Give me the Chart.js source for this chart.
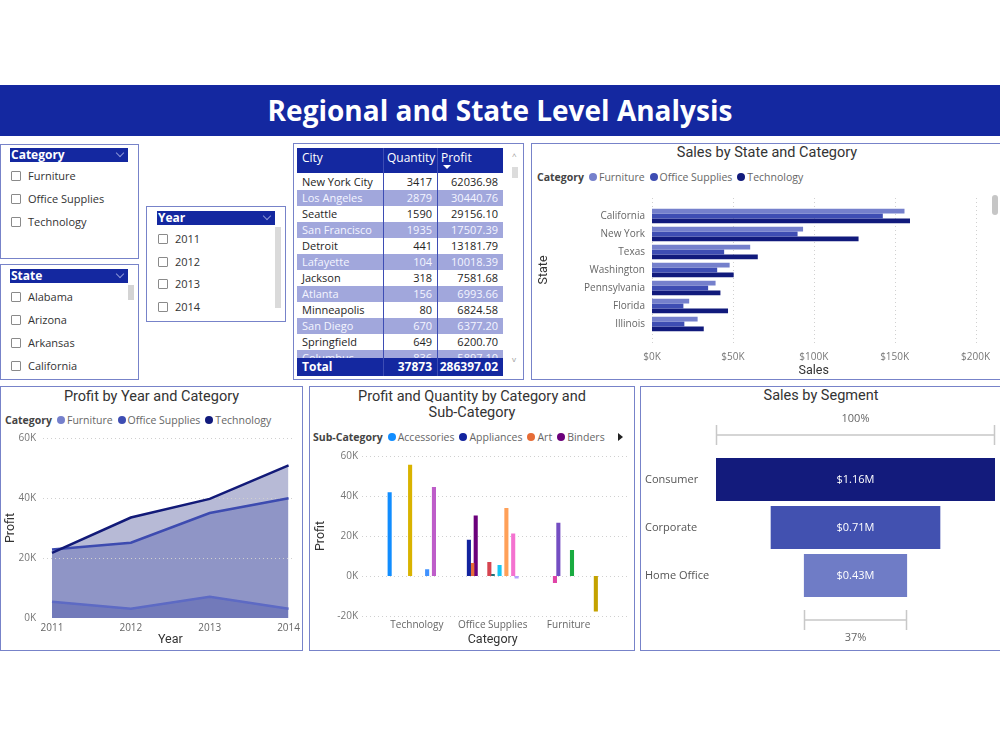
<!DOCTYPE html>
<html>
<head>
<meta charset="utf-8">
<title>Regional and State Level Analysis</title>
<script src="https://cdn.jsdelivr.net/npm/chart.js"></script>
<style>
  body { margin: 0; background: #fff; }
  #dash { position: relative; width: 1000px; height: 750px; overflow: hidden; font-family: 'Open Sans', sans-serif; color: #333; }
  .abs { position: absolute; }
  .banner { left: 0; top: 85px; width: 1000px; height: 51px; background: #1428a0; color: #fff; font: bold 28px 'Open Sans', sans-serif; text-align: center; line-height: 51px; }
  .panel { position: absolute; border: 1px solid #7783c9; box-sizing: border-box; }
  .vtitle { position: absolute; font-family: Roboto, sans-serif; font-size: 14.5px; color: #333; text-align: center; line-height: 16px; }
  .legend { position: absolute; display: flex; align-items: center; font-size: 10.5px; color: #666; white-space: nowrap; line-height: 12px; }
  .legend b { color: #444; margin-right: 5px; }
  .legend .item { display: flex; align-items: center; margin-right: 5px; }
  .legend .dot { width: 8px; height: 8px; border-radius: 50%; margin-right: 2px; }
  .slhead { position: absolute; background: #1428a0; color: #fff; font-weight: bold; font-size: 12px; line-height: 14px; height: 14px; padding-left: 1px; box-sizing: border-box; }
  .chev { position: absolute; right: 5px; top: 2px; width: 5px; height: 5px; border-right: 1px solid #8a94d6; border-bottom: 1px solid #8a94d6; transform: rotate(45deg); }
  .slitem { position: absolute; font-size: 11px; color: #333; line-height: 14px; white-space: nowrap; }
  .box { position: absolute; width: 10px; height: 10px; border: 1px solid #8a8a8a; box-sizing: border-box; border-radius: 1px; }
  .sbar { position: absolute; background: #d4d4d4; }
  .cell { position: absolute; font-size: 11px; line-height: 16px; white-space: nowrap; }
</style>
</head>
<body>
<div id="dash">
  <div class="abs banner">Regional and State Level Analysis</div>

  <!-- slicers -->
  <div class="panel" style="left:0;top:144px;width:139px;height:115px"></div>
  <div class="panel" style="left:0;top:264px;width:139px;height:116px"></div>
  <div class="panel" style="left:146px;top:206px;width:140px;height:116px"></div>

  <!-- table -->
  <div class="panel" style="left:293px;top:143px;width:231px;height:237px"></div>

  <!-- sales by state -->
  <div class="panel" style="left:531px;top:143px;width:475px;height:237px"></div>
  <div class="vtitle" style="left:531px;top:145px;width:472px">Sales by State and Category</div>
  <div class="legend" id="legState" style="left:537px;top:171px"></div>
  <div class="sbar" style="left:992px;top:195px;width:6px;height:20px;border-radius:3px;background:#c6c6c6"></div>
  <canvas class="abs" id="stateChart" width="460" height="190" style="left:532px;top:188px"></canvas>

  <!-- profit by year -->
  <div class="panel" style="left:0;top:386px;width:303px;height:265px"></div>
  <div class="vtitle" style="left:0;top:389px;width:303px">Profit by Year and Category</div>
  <div class="legend" id="legYear" style="left:5px;top:414px"></div>
  <canvas class="abs" id="yearChart" width="300" height="220" style="left:2px;top:428px"></canvas>

  <!-- profit and quantity by sub-category -->
  <div class="panel" style="left:309px;top:386px;width:326px;height:265px"></div>
  <div class="vtitle" style="left:309px;top:389px;width:326px">Profit and Quantity by Category and<br>Sub-Category</div>
  <div class="legend" id="legSub" style="left:313px;top:431px"></div>
  <div class="abs" style="left:618px;top:433px;width:0;height:0;border-top:4px solid transparent;border-bottom:4px solid transparent;border-left:5px solid #222"></div>
  <canvas class="abs" id="subChart" width="321" height="203" style="left:311px;top:445px"></canvas>

  <!-- sales by segment -->
  <div class="panel" style="left:640px;top:386px;width:366px;height:265px"></div>
  <div class="vtitle" style="left:640px;top:388px;width:362px">Sales by Segment</div>
  <canvas class="abs" id="segChart" width="356" height="248" style="left:642px;top:400px"></canvas>
</div>

<script>
// ---- Données ----
const categories = ['Furniture', 'Office Supplies', 'Technology'];
const categoryColors = ['#7580cc', '#3e4db3', '#111a7c'];

const states = ['California', 'New York', 'Texas', 'Washington', 'Pennsylvania', 'Florida', 'Illinois'];
const stateFurniture = [156100, 93400, 60700, 48000, 39300, 23000, 28200];
const stateOffice = [142700, 90000, 44600, 40300, 34700, 19400, 20000];
const stateTech = [159500, 127700, 65400, 50500, 42300, 47000, 32000];

const years = ['2011', '2012', '2013', '2014'];
const profitFurniture = [5400, 3100, 7100, 3100];
const profitOffice = [22800, 25100, 35000, 39900];
const profitTech = [21700, 33500, 39700, 50900];

const mainCategories = ['Technology', 'Office Supplies', 'Furniture'];
const subCategories = ['Accessories', 'Appliances', 'Art', 'Binders', 'Bookcases', 'Chairs', 'Copiers', 'Envelopes', 'Fasteners',
  'Furnishings', 'Labels', 'Machines', 'Paper', 'Phones', 'Storage', 'Supplies', 'Tables'];
const subParent = ['Technology', 'Office Supplies', 'Office Supplies', 'Office Supplies', 'Furniture', 'Furniture', 'Technology',
  'Office Supplies', 'Office Supplies', 'Furniture', 'Office Supplies', 'Technology', 'Office Supplies', 'Technology',
  'Office Supplies', 'Office Supplies', 'Furniture'];
const subProfit = [41937, 18138, 6528, 30222, -3473, 26590, 55618, 6964, 950, 13059, 5546, 3385, 34054, 44516, 21279, -1189, -17725];
const subColors = ['#118dff', '#12239e', '#e66c37', '#6b007b', '#e044a7', '#744ec2', '#d9b300', '#d64550', '#197278',
  '#1aab40', '#15c6f4', '#4092ff', '#ffa058', '#be5dc9', '#f472d0', '#b5a1ff', '#c4a200'];

const segments = ['Consumer', 'Corporate', 'Home Office'];
const segmentSales = [1161401, 706146, 429653];
const segmentColors = ['#131b7c', '#4251b0', '#6f7cc6'];

const slicerCategories = ['Furniture', 'Office Supplies', 'Technology'];
const slicerStates = ['Alabama', 'Arizona', 'Arkansas', 'California'];
const slicerYears = ['2011', '2012', '2013', '2014'];

const tableCities = ['New York City', 'Los Angeles', 'Seattle', 'San Francisco', 'Detroit', 'Lafayette', 'Jackson', 'Atlanta',
  'Minneapolis', 'San Diego', 'Springfield', 'Columbus'];
const tableQuantity = [3417, 2879, 1590, 1935, 441, 104, 318, 156, 80, 670, 649, 836];
const tableProfit = [62036.98, 30440.76, 29156.10, 17507.39, 13181.79, 10018.39, 7581.68, 6993.66, 6824.58, 6377.20, 6200.70, 5897.10];
const totalQuantity = 37873;
const totalProfit = 286397.02;

const dash = document.getElementById('dash');

function el(cls, style, text) {
    const d = document.createElement('div');
    if (cls) d.className = cls;
    d.setAttribute('style', style);
    if (text !== undefined) d.textContent = text;
    dash.appendChild(d);
    return d;
}

// ---- Slicers ----
function slicer(x, y, title, items, step, first) {
    const h = el('slhead', `left:${x}px;top:${y}px;width:118px`, title);
    const c = document.createElement('span');
    c.className = 'chev';
    h.appendChild(c);
    items.forEach((it, i) => {
        const cy = first + i * step;
        el('box', `left:${x + 1}px;top:${cy - 5}px`);
        el('slitem', `left:${x + 18}px;top:${cy - 7}px`, it);
    });
}
slicer(10, 148, 'Category', slicerCategories, 23, 176);
slicer(10, 269, 'State', slicerStates, 23, 297);
slicer(157, 211, 'Year', slicerYears, 22.7, 239);
el('sbar', 'left:128px;top:285px;width:6px;height:15px');
el('sbar', 'left:275px;top:227px;width:6px;height:81px;background:#dadada');

// ---- Tableau ----
el('', 'position:absolute;left:297px;top:148px;width:206px;height:25px;background:#1428a0');
el('cell', 'left:302px;top:150px;color:#fff;font-size:12px', 'City');
el('cell', 'left:387px;top:150px;color:#fff;font-size:12px', 'Quantity');
el('cell', 'left:441px;top:150px;color:#fff;font-size:12px', 'Profit');
el('', 'position:absolute;left:443px;top:165px;width:0;height:0;border-left:4px solid transparent;border-right:4px solid transparent;border-top:4px solid #fff');

const body = el('', 'position:absolute;left:297px;top:173px;width:206px;height:185px;overflow:hidden');
tableCities.forEach((city, i) => {
    const band = i % 2 === 1;
    const row = document.createElement('div');
    row.setAttribute('style', `position:absolute;left:0;top:${1 + i * 16}px;width:206px;height:16px;` +
        (band ? 'background:#a1a7dc;color:#f4f5ff' : 'background:#fff;color:#252423'));
    row.innerHTML = `<div class="cell" style="left:5px;top:0">${city}</div>` +
        `<div class="cell" style="right:71px;top:0">${tableQuantity[i]}</div>` +
        `<div class="cell" style="right:5px;top:0">${tableProfit[i].toFixed(2)}</div>`;
    body.appendChild(row);
});
el('', 'position:absolute;left:297px;top:358px;width:206px;height:18px;background:#1428a0');
el('cell', 'left:302px;top:359px;color:#fff;font-weight:bold;font-size:12px', 'Total');
el('cell', 'right:568px;top:359px;color:#fff;font-weight:bold;font-size:12px', String(totalQuantity));
el('cell', 'right:502px;top:359px;color:#fff;font-weight:bold;font-size:12px', totalProfit.toFixed(2));
el('', 'position:absolute;left:383px;top:148px;width:1px;height:228px;background:#3d4db4');
el('', 'position:absolute;left:437px;top:148px;width:1px;height:228px;background:#3d4db4');
el('sbar', 'left:512px;top:167px;width:6px;height:11px;background:#dcdcdc');
el('cell', 'left:512px;top:148px;color:#999;font-size:8px', '^');
el('cell', 'left:512px;top:351px;color:#999;font-size:8px', 'v');

// ---- Légendes ----
function legend(id, title, names, colors) {
    const box = document.getElementById(id);
    box.innerHTML = `<b>${title}</b>` + names.map((n, i) =>
        `<span class="item"><span class="dot" style="background:${colors[i]}"></span>${n}</span>`).join('');
}
legend('legState', 'Category', categories, categoryColors);
legend('legYear', 'Category', categories, categoryColors);
legend('legSub', 'Sub-Category', subCategories.slice(0, 4), subColors.slice(0, 4));

// ---- Chart.js ----
Chart.defaults.font.family = "'Open Sans', sans-serif";
Chart.defaults.color = '#777';
Chart.defaults.animation = false;
Chart.defaults.responsive = false;
Chart.defaults.plugins.legend.display = false;
Chart.defaults.plugins.tooltip.enabled = false;

const titleFont = { family: 'Roboto', size: 12.5 };

// lignes de grille pointillées plus longues que la zone du graphique
const extGrid = {
    id: 'extGrid',
    beforeDatasetsDraw(chart, args, opts) {
        const scale = chart.scales[opts.axis];
        const ctx = chart.ctx;
        ctx.save();
        ctx.strokeStyle = '#d0d0d0';
        ctx.lineWidth = 1;
        ctx.setLineDash([1, 3]);
        scale.ticks.forEach(t => {
            if (opts.skipZero && t.value === 0) return;
            const p = Math.round(scale.getPixelForValue(t.value)) + 0.5;
            ctx.beginPath();
            if (opts.axis === 'y') { ctx.moveTo(opts.from, p); ctx.lineTo(opts.to, p); }
            else { ctx.moveTo(p, opts.from); ctx.lineTo(p, opts.to); }
            ctx.stroke();
        });
        ctx.restore();
    }
};

const kFmt = v => (v / 1000) + 'K';
// grille masquée : tickLength sert seulement d'écart entre étiquettes et zone du graphique
const hiddenGrid = len => ({ display: false, drawTicks: true, tickLength: len });

// Sales by State and Category
new Chart(document.getElementById('stateChart'), {
    type: 'bar',
    data: {
        labels: states,
        datasets: [
            { label: categories[0], data: stateFurniture, backgroundColor: categoryColors[0] },
            { label: categories[1], data: stateOffice, backgroundColor: categoryColors[1] },
            { label: categories[2], data: stateTech, backgroundColor: categoryColors[2] }
        ]
    },
    plugins: [extGrid],
    options: {
        indexAxis: 'y',
        datasets: { bar: { categoryPercentage: 0.8, barPercentage: 1 } },
        layout: { padding: { left: 0, right: 14, top: 19, bottom: 0 } },
        plugins: { extGrid: { axis: 'x', from: 10, to: 155 } },
        scales: {
            x: {
                min: 0, max: 200000,
                afterFit: s => { s.height = 45; },
                grid: hiddenGrid(16), border: { display: false },
                ticks: { stepSize: 50000, padding: 2, maxRotation: 0, font: { size: 10 }, color: '#777',
                    callback: v => '$' + kFmt(v) },
                title: { display: true, text: 'Sales', font: titleFont, color: '#333', padding: { top: 0, bottom: 0 } }
            },
            y: {
                afterFit: s => { s.width = 120; },
                grid: hiddenGrid(5), border: { display: false },
                ticks: { padding: 2, autoSkip: false, font: { size: 10 }, color: '#666' },
                title: { display: true, text: 'State', font: titleFont, color: '#333', padding: { top: 4, bottom: 0 } }
            }
        }
    }
});

// Profit by Year and Category
new Chart(document.getElementById('yearChart'), {
    type: 'line',
    data: {
        labels: years,
        datasets: [
            { label: categories[2], data: profitTech, borderColor: '#121a78', backgroundColor: 'rgba(18,26,120,0.3)', order: 0 },
            { label: categories[1], data: profitOffice, borderColor: '#3d4bb0', backgroundColor: 'rgba(62,77,179,0.3)', order: 1 },
            { label: categories[0], data: profitFurniture, borderColor: '#5d6ac4', backgroundColor: 'rgba(80,90,180,0.33)', order: 2 }
        ]
    },
    plugins: [extGrid],
    options: {
        datasets: { line: { fill: 'origin', borderWidth: 2.5, pointRadius: 0, tension: 0 } },
        layout: { padding: { left: 0, right: 13, top: 10, bottom: 0 } },
        plugins: { filler: { drawTime: 'beforeDatasetsDraw' }, extGrid: { axis: 'y', from: 41, to: 291, skipZero: true } },
        scales: {
            x: {
                offset: false,
                afterFit: s => { s.height = 30; },
                grid: hiddenGrid(2), border: { display: false },
                ticks: { padding: 2, maxRotation: 0, font: { size: 10 }, color: '#666' },
                title: { display: true, text: 'Year', font: titleFont, color: '#333', padding: { top: 0, bottom: 1 } }
            },
            y: {
                min: 0, max: 60000,
                afterFit: s => { s.width = 50; },
                grid: hiddenGrid(14), border: { display: false },
                ticks: { stepSize: 20000, padding: 2, font: { size: 10 }, color: '#777', callback: kFmt },
                title: { display: true, text: 'Profit', font: titleFont, color: '#333', padding: { top: 1, bottom: 0 } }
            }
        }
    }
});

// Profit and Quantity by Category and Sub-Category
new Chart(document.getElementById('subChart'), {
    type: 'bar',
    data: {
        labels: mainCategories,
        datasets: subCategories.map((name, i) => ({
            label: name,
            data: mainCategories.map(c => c === subParent[i] ? subProfit[i] : null),
            backgroundColor: subColors[i]
        }))
    },
    plugins: [extGrid],
    options: {
        datasets: { bar: { categoryPercentage: 0.764, barPercentage: 1.2 } },
        layout: { padding: { left: 0, right: 25.5, top: 11, bottom: 0 } },
        plugins: { extGrid: { axis: 'y', from: 51, to: 319 } },
        scales: {
            x: {
                afterFit: s => { s.height = 32; },
                grid: hiddenGrid(1), border: { display: false },
                ticks: { padding: 2, maxRotation: 0, font: { size: 10 }, color: '#666' },
                title: { display: true, text: 'Category', font: titleFont, color: '#333', padding: { top: 0, bottom: 1 } }
            },
            y: {
                min: -20000, max: 60000,
                afterFit: s => { s.width = 68; },
                grid: hiddenGrid(19), border: { display: false },
                ticks: { stepSize: 20000, padding: 2, font: { size: 10 }, color: '#777', callback: kFmt },
                title: { display: true, text: 'Profit', font: titleFont, color: '#333', padding: { top: 2, bottom: 0 } }
            }
        }
    }
});

// Sales by Segment (entonnoir)
const funnelDecor = {
    id: 'funnelDecor',
    afterDatasetsDraw(chart) {
        const ctx = chart.ctx;
        const x = chart.scales.x;
        const area = chart.chartArea;
        const meta = chart.getDatasetMeta(0);
        ctx.save();
        ctx.font = "11px 'Open Sans'";
        ctx.textAlign = 'center';
        ctx.textBaseline = 'middle';
        ctx.fillStyle = '#fff';
        meta.data.forEach((bar, i) => {
            ctx.fillText('$' + (segmentSales[i] / 1e6).toFixed(2) + 'M', (bar.x + bar.base) / 2, bar.y);
        });
        const first = segmentSales[0], last = segmentSales[segmentSales.length - 1];
        const bracket = (v, y) => {
            const a = Math.round(x.getPixelForValue(-v / 2)) + 0.5, b = Math.round(x.getPixelForValue(v / 2)) - 0.5;
            ctx.beginPath();
            ctx.moveTo(a, y - 10); ctx.lineTo(a, y + 10);
            ctx.moveTo(b, y - 10); ctx.lineTo(b, y + 10);
            ctx.moveTo(a, y); ctx.lineTo(b, y);
            ctx.stroke();
        };
        ctx.strokeStyle = '#c8c8c8';
        ctx.lineWidth = 1.5;
        const yTop = Math.round(area.top - 20.5), yBot = Math.round(area.bottom + 20.5);
        bracket(first, yTop);
        bracket(last, yBot);
        ctx.fillStyle = '#666';
        const cx = x.getPixelForValue(0);
        ctx.fillText('100%', cx, yTop - 16);
        ctx.fillText(Math.round(last / first * 100) + '%', cx, yBot + 18);
        ctx.restore();
    }
};

new Chart(document.getElementById('segChart'), {
    type: 'bar',
    data: {
        labels: segments,
        datasets: [{
            data: segmentSales.map(v => [-v / 2, v / 2]),
            backgroundColor: segmentColors,
            categoryPercentage: 1,
            barPercentage: 0.9
        }]
    },
    plugins: [funnelDecor],
    options: {
        indexAxis: 'y',
        layout: { padding: { left: 3, right: 3, top: 55.5, bottom: 48.5 } },
        scales: {
            x: { display: false, min: -segmentSales[0] / 2, max: segmentSales[0] / 2 },
            y: {
                afterFit: s => { s.width = 71; },
                grid: { display: false }, border: { display: false },
                ticks: { crossAlign: 'far', padding: 0, font: { size: 11 }, color: '#555' }
            }
        }
    }
});
</script>
</body>
</html>
